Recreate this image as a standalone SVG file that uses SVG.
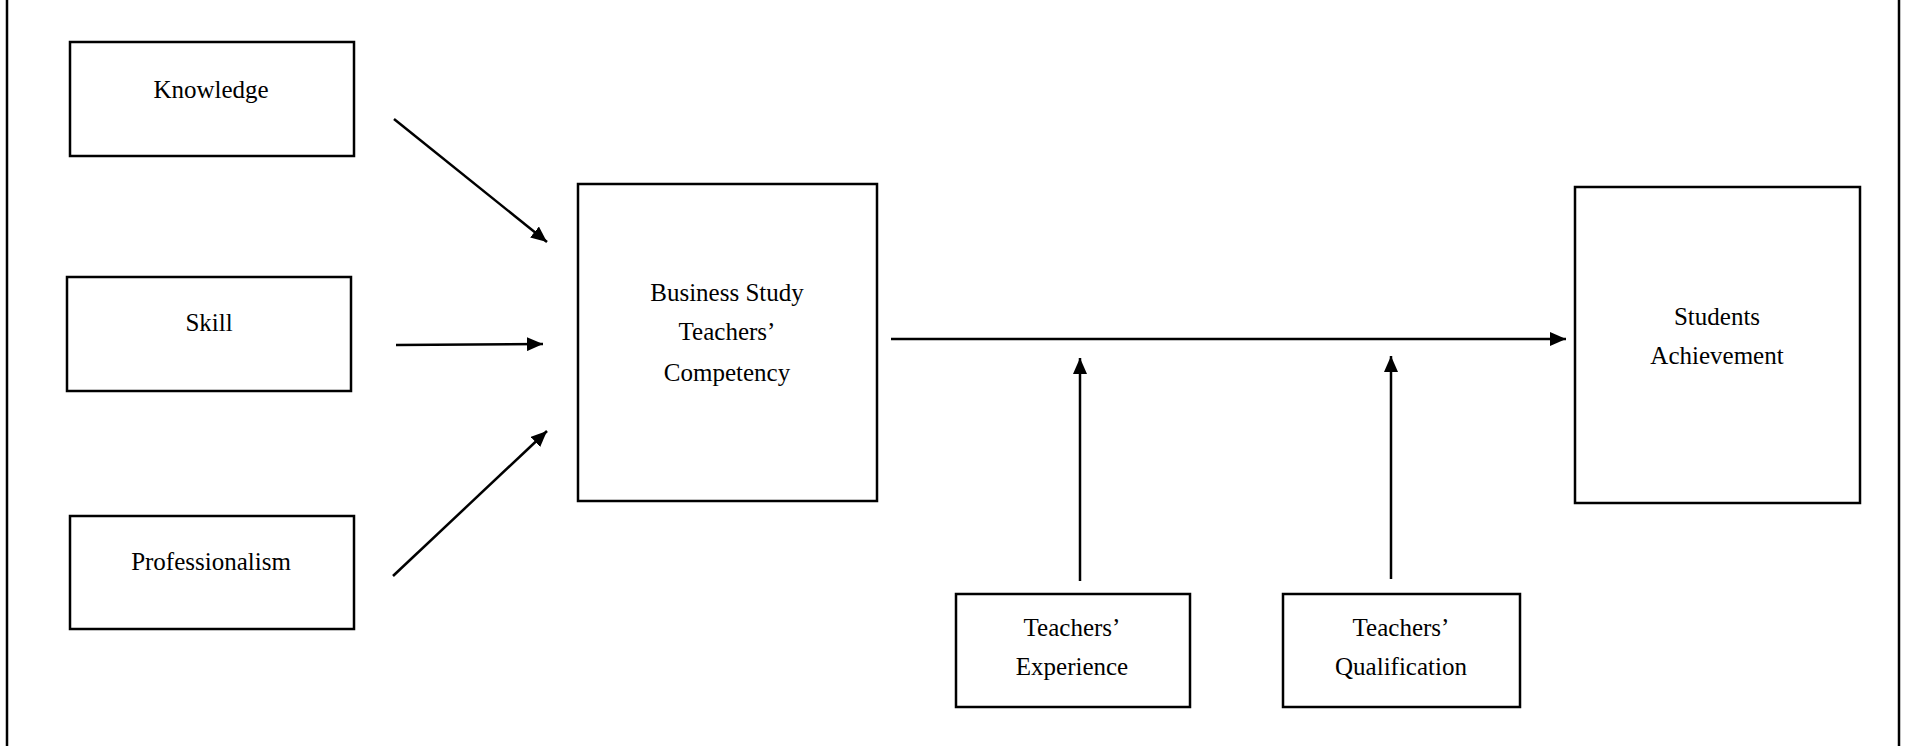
<svg xmlns="http://www.w3.org/2000/svg" width="1916" height="746" viewBox="0 0 1916 746">
<style>
.b{fill:#fff;stroke:#000;stroke-width:2.5}
.t{font-family:"Liberation Serif",serif;font-size:25px;text-anchor:middle;fill:#000}
.c{stroke:#000;stroke-width:2.5;fill:none;marker-end:url(#a)}
</style>
<defs><marker id="a" markerWidth="8" markerHeight="8" refX="7" refY="4" orient="auto" markerUnits="userSpaceOnUse"><path d="M0,0 L8,4 L0,8 Z" fill="#000"/></marker>
<marker id="h" viewBox="0 0 10 10" markerWidth="16" markerHeight="14" refX="10" refY="5" orient="auto" markerUnits="userSpaceOnUse" preserveAspectRatio="none"><path d="M0,0 L10,5 L0,10 Z" fill="#000"/></marker></defs>
<rect width="1916" height="746" fill="#fff"/>
<rect x="7" y="-3" width="1892" height="752" fill="none" stroke="#000" stroke-width="2.5"/>
<g id="knowledge"><rect class="b" x="70" y="42" width="284" height="114"/><text class="t" x="211" y="98">Knowledge</text></g>
<g id="skill"><rect class="b" x="67" y="277" width="284" height="114"/><text class="t" x="209" y="331">Skill</text></g>
<g id="professionalism"><rect class="b" x="70" y="516" width="284" height="113"/><text class="t" x="211" y="570">Professionalism</text></g>
<g id="competency"><rect class="b" x="578" y="184" width="299" height="317"/><text class="t" x="727" y="301">Business Study</text><text class="t" x="727" y="340">Teachers’</text><text class="t" x="727" y="381">Competency</text></g>
<g id="achievement"><rect class="b" x="1575" y="187" width="285" height="316"/><text class="t" x="1717" y="325">Students</text><text class="t" x="1717" y="364">Achievement</text></g>
<g id="experience"><rect class="b" x="956" y="594" width="234" height="113"/><text class="t" x="1072" y="636">Teachers’</text><text class="t" x="1072" y="675">Experience</text></g>
<g id="qualification"><rect class="b" x="1283" y="594" width="237" height="113"/><text class="t" x="1401" y="636">Teachers’</text><text class="t" x="1401" y="675">Qualification</text></g>
<g id="connectors" stroke="#000" stroke-width="2.5" fill="none">
<path d="M394,119 L547,242" marker-end="url(#h)"/>
<path d="M396,345 L543,344" marker-end="url(#h)"/>
<path d="M393,576 L547,431" marker-end="url(#h)"/>
<path d="M891,339 L1566,339" marker-end="url(#h)"/>
<path d="M1080,581 L1080,358" marker-end="url(#h)"/>
<path d="M1391,579 L1391,356" marker-end="url(#h)"/>
</g>
</svg>
